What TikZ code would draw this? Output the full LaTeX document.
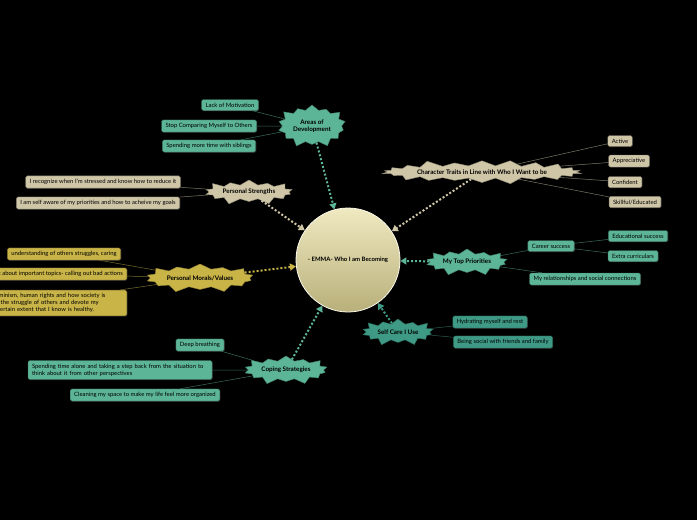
\documentclass[tikz,border=0pt]{standalone}
\usepackage{fontspec}
\setmainfont{Lato}
\usetikzlibrary{shapes.symbols,arrows.meta,shadows}
\definecolor{teal1}{HTML}{5DB597}
\definecolor{teald}{HTML}{3F9A85}
\definecolor{beige}{HTML}{CFC6A8}
\definecolor{gold}{HTML}{C9B448}
\definecolor{circ}{HTML}{E6DB98}
\tikzset{
 burst/.style={starburst,starburst points=14,starburst point height=7pt,draw=#1!70!black,fill=#1,font=\bfseries\fontsize{6.3}{7.3}\selectfont,inner sep=2pt,align=center},
 leaf/.style={rectangle,rounded corners=1.5pt,draw=#1!60!black,fill=#1,font=\fontsize{5.9}{6.9}\selectfont,inner xsep=4pt,inner ysep=3.3pt,align=center,drop shadow={opacity=0.4,shadow xshift=0.6pt,shadow yshift=-0.6pt}},
 lnk/.style={draw=#1!60!black,line width=0.5pt},
 hub/.style={draw=#1,line width=2pt,dash pattern=on 2pt off 2pt,-{Triangle[length=6pt,width=7pt]}},
}
\begin{document}
\begin{tikzpicture}[x=1pt,y=-1pt]
\useasboundingbox (0,0) rectangle (697,520);
\fill[black] (0,0) rectangle (697,520);
\clip (0,0) rectangle (697,520);
\node[circle,minimum size=104pt,inner sep=0,draw=white!80!circ,line width=0.8pt,top color=circ!60!white,bottom color=circ!80!black,font=\bfseries\fontsize{6}{7}\selectfont] (c) at (348,260) {- EMMA- Who I am Becoming};
% Areas of development
\node[burst=teal1,minimum width=72pt,minimum height=46pt] (ad) at (312,126) {Areas of\\Development};
\node[leaf=teal1] (ad1) at (230,105) {Lack of Motivation};
\node[leaf=teal1] (ad2) at (209,126) {Stop Comparing Myself to Others};
\node[leaf=teal1] (ad3) at (209,146) {Spending more time with siblings};
\foreach \n in {ad1,ad2,ad3} \draw[lnk=teal1] (\n) -- (ad);
\draw[hub=teal1] (ad) -- (c);
% Personal strengths
\node[burst=beige,minimum width=92pt,minimum height=28pt] (ps) at (249,192) {Personal Strengths};
\node[leaf=beige] (ps1) at (103,182) {I recognize when I'm stressed and know how to reduce it};
\node[leaf=beige] (ps2) at (98,203) {I am self aware of my priorities and how to acheive my goals};
\foreach \n in {ps1,ps2} \draw[lnk=beige] (\n) -- (ps);
\draw[hub=beige] (ps) -- (c);
% Character traits
\node[burst=beige,starburst points=22,minimum width=180pt,minimum height=26pt] (ct) at (482,172) {Character Traits in Line with Who I Want to be};
\node[leaf=beige] (ct1) at (620,141) {Active};
\node[leaf=beige] (ct2) at (629,161) {Appreciative};
\node[leaf=beige] (ct3) at (625,182) {Confident};
\node[leaf=beige] (ct4) at (635,202) {Skillful/Educated};
\foreach \n in {ct1,ct2,ct3,ct4} \draw[lnk=beige] (\n) -- (ct);
\draw[hub=beige] (ct) -- (c);
% Priorities
\node[burst=teal1,minimum width=84pt,minimum height=30pt] (tp) at (467,262) {My Top Priorities};
\node[leaf=teal1] (tp1) at (551,246) {Career success};
\node[leaf=teal1] (tp2) at (638,236) {Educational success};
\node[leaf=teal1] (tp3) at (633,256) {Extra curriculars};
\node[leaf=teal1] (tp4) at (585,279) {My relationships and social connections};
\draw[lnk=teal1] (tp1) -- (tp); \draw[lnk=teal1] (tp4) -- (tp);
\draw[lnk=teal1] (tp2) -- (tp1); \draw[lnk=teal1] (tp3) -- (tp1);
\draw[hub=teal1] (tp) -- (c);
% Self care
\node[burst=teald,minimum width=70pt,minimum height=30pt] (sc) at (398,332) {Self Care I Use};
\node[leaf=teald] (sc1) at (490,322) {Hydrating myself and rest};
\node[leaf=teald] (sc2) at (503,342) {Being social with friends and family};
\foreach \n in {sc1,sc2} \draw[lnk=teald] (\n) -- (sc);
\draw[hub=teald] (sc) -- (c);
% Coping
\node[burst=teal1,minimum width=82pt,minimum height=32pt] (cs) at (286,370) {Coping Strategies};
\node[leaf=teal1] (cs1) at (200,345) {Deep breathing};
\node[leaf=teal1,text width=176pt,align=left] (cs2) at (120,370) {Spending time alone and taking a step back from the situation to think about it from other perspectives};
\node[leaf=teal1] (cs3) at (145,395) {Cleaning my space to make my life feel more organized};
\foreach \n in {cs1,cs2,cs3} \draw[lnk=teal1] (\n) -- (cs);
\draw[hub=teal1] (cs) -- (c);
% Morals
\node[burst=gold,minimum width=110pt,minimum height=32pt] (pm) at (200,278) {Personal Morals/Values};
\node[leaf=gold] (pm1) at (64,254) {understanding of others struggles, caring};
\node[leaf=gold,anchor=east] (pm2) at (127,274) {I speak out about important topics- calling out bad actions};
\node[leaf=gold,text width=180pt,anchor=east] (pm3) at (127,303) {I care about feminism, human rights and how society is\\I connect to the struggle of others and devote my\\time to a certain extent that I know is healthy.};
\foreach \n in {pm1,pm2,pm3} \draw[lnk=gold] (\n) -- (pm);
\draw[hub=gold] (pm) -- (c);
\end{tikzpicture}
\end{document}
